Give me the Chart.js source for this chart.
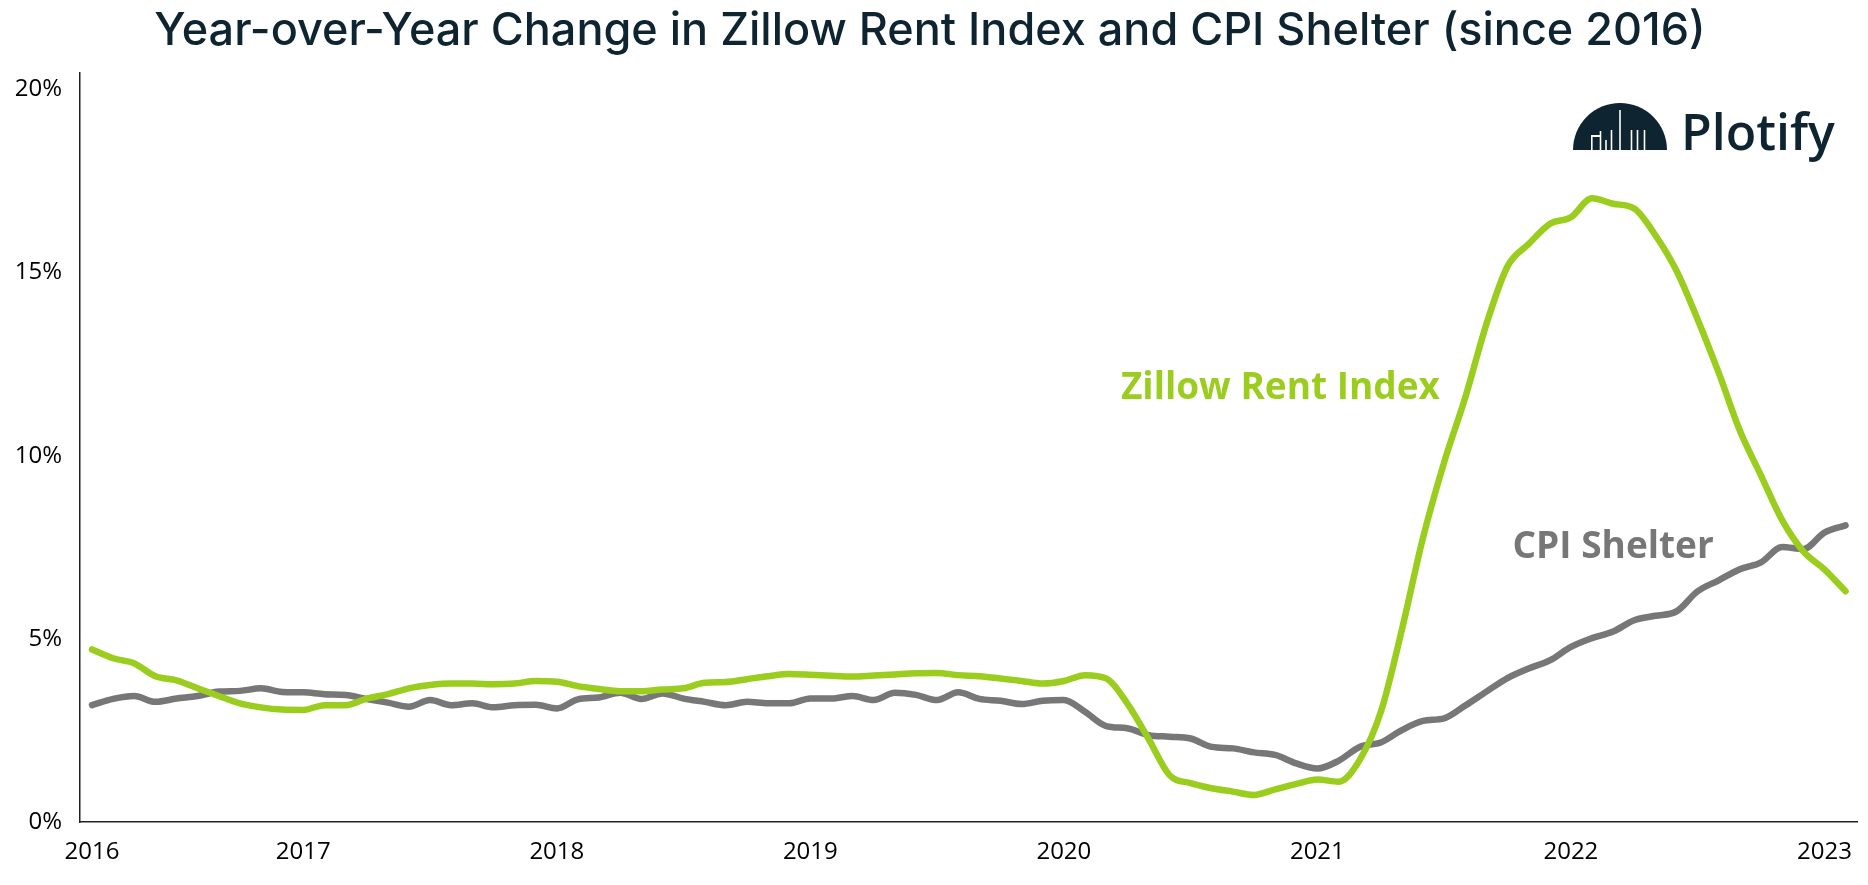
<!DOCTYPE html>
<html>
<head>
<meta charset="utf-8">
<title>Zillow Rent Index vs CPI Shelter</title>
<script src="https://cdn.jsdelivr.net/npm/chart.js@4.4.1/dist/chart.umd.min.js"></script>
<style>
  html, body { margin: 0; padding: 0; background: #fff; }
  canvas { display: block; }
</style>
</head>
<body>
<canvas id="chart" width="1868" height="885"></canvas>
<script>
// Aylik veri: Mart 2016 - Subat 2023 (yillik % degisim)
const startYear = 2016;
const startMonth = 3;

const zillowRent = [
  4.71, 4.47, 4.33, 3.98, 3.87, 3.65, 3.44, 3.24, 3.13, 3.07,
  3.06, 3.19, 3.19, 3.37, 3.49, 3.65, 3.74, 3.78, 3.78, 3.76,
  3.78, 3.85, 3.83, 3.71, 3.63, 3.57, 3.57, 3.62, 3.65, 3.80,
  3.82, 3.90, 3.98, 4.04, 4.02, 3.99, 3.97, 4.00, 4.03, 4.06,
  4.07, 4.01, 3.98, 3.92, 3.85, 3.78, 3.85, 4.01, 3.92, 3.24,
  2.28, 1.28, 1.06, 0.92, 0.83, 0.74, 0.89, 1.04, 1.16, 1.10,
  1.69, 3.00, 5.25, 7.76, 9.82, 11.59, 13.59, 15.17, 15.78, 16.33,
  16.51, 17.03, 16.88, 16.75, 16.02, 15.05, 13.72, 12.26, 10.68, 9.46,
  8.24, 7.39, 6.90, 6.30
];

const cpiShelter = [
  3.19, 3.36, 3.44, 3.28, 3.37, 3.44, 3.56, 3.58, 3.65, 3.55,
  3.54, 3.49, 3.47, 3.36, 3.26, 3.15, 3.33, 3.19, 3.24, 3.13,
  3.19, 3.20, 3.10, 3.35, 3.40, 3.53, 3.36, 3.51, 3.37, 3.28,
  3.19, 3.28, 3.24, 3.24, 3.37, 3.37, 3.44, 3.33, 3.53, 3.47,
  3.33, 3.54, 3.36, 3.31, 3.22, 3.31, 3.33, 3.01, 2.62, 2.56,
  2.37, 2.33, 2.28, 2.05, 2.01, 1.90, 1.83, 1.60, 1.46, 1.67,
  2.05, 2.17, 2.51, 2.76, 2.83, 3.18, 3.56, 3.93, 4.19, 4.41,
  4.78, 5.02, 5.20, 5.51, 5.63, 5.75, 6.30, 6.60, 6.90, 7.09,
  7.51, 7.45, 7.90, 8.10
];

// x ekseni yil etiketleri (ilk etiket serinin basinda)
const yearLabels = ['2016', '2017', '2018', '2019', '2020', '2021', '2022', '2023'];
const yearTickIndex = [0, 10, 22, 34, 46, 58, 70, 82];
const yTicks = [0, 5, 10, 15, 20];

const months = zillowRent.map((_, i) => {
  const m = startMonth - 1 + i;
  return (startYear + Math.floor(m / 12)) + '-' + String(m % 12 + 1).padStart(2, '0');
});

const GREEN = '#9bcd1e';
const GREY = '#777777';
const NAVY = '#0e2430';

// Seri etiketleri ve logo
const decorPlugin = {
  id: 'decor',
  afterDraw(chart) {
    const { ctx, scales } = chart;
    const x = scales.x, y = scales.y;
    ctx.save();
    ctx.font = 'bold 37px "Open Sans"';
    ctx.textBaseline = 'middle';
    ctx.textAlign = 'right';
    ctx.fillStyle = GREEN;
    ctx.fillText('Zillow Rent Index', x.getPixelForValue(63.8), y.getPixelForValue(11.85));
    ctx.textAlign = 'center';
    ctx.fillStyle = GREY;
    ctx.fillText('CPI Shelter', x.getPixelForValue(72.0), y.getPixelForValue(7.5));

    // Plotify logosu
    const cx = 1620, base = 150, r = 47;
    ctx.fillStyle = NAVY;
    ctx.beginPath();
    ctx.arc(cx, base, r, Math.PI, 0);
    ctx.closePath();
    ctx.fill();
    ctx.strokeStyle = '#fff';
    ctx.lineWidth = 1.6;
    [[1600.5, 131], [1606, 140], [1611.5, 130], [1620, 110], [1631.5, 130], [1637.5, 130], [1644.5, 130]]
      .forEach(([lx, top]) => {
        ctx.beginPath();
        ctx.moveTo(lx, base);
        ctx.lineTo(lx, top);
        ctx.stroke();
      });
    ctx.fillStyle = '#fff';
    ctx.fillRect(1591, 135, 9, 2);
    ctx.fillRect(1591, 135, 1.6, 15);
    ctx.fillStyle = NAVY;
    ctx.font = '600 50px "Open Sans"';
    ctx.textAlign = 'left';
    ctx.textBaseline = 'alphabetic';
    ctx.fillText('Plotify', 1681, 150);
    ctx.restore();
  }
};

new Chart(document.getElementById('chart'), {
  type: 'line',
  data: {
    labels: months,
    datasets: [
      {
        label: 'Zillow Rent Index',
        data: zillowRent.map((v, i) => ({ x: i, y: v })),
        borderColor: GREEN,
        borderWidth: 6.5,
        pointRadius: 0,
        cubicInterpolationMode: 'monotone',
        borderCapStyle: 'round',
        borderJoinStyle: 'round',
      },
      {
        label: 'CPI Shelter',
        data: cpiShelter.map((v, i) => ({ x: i, y: v })),
        borderColor: GREY,
        borderWidth: 6.5,
        pointRadius: 0,
        cubicInterpolationMode: 'monotone',
        borderCapStyle: 'round',
        borderJoinStyle: 'round',
      }
    ]
  },
  options: {
    responsive: false,
    animation: false,
    layout: { padding: { left: 0, right: 8, top: 0, bottom: 0 } },
    plugins: {
      legend: { display: false },
      tooltip: { enabled: false },
      title: {
        display: true,
        text: 'Year-over-Year Change in Zillow Rent Index and CPI Shelter (since 2016)',
        color: NAVY,
        font: { family: 'Inter', size: 45, weight: '500', lineHeight: 1.2 },
        padding: { top: 4, bottom: 15 },
      },
    },
    scales: {
      x: {
        type: 'linear',
        min: -0.57,
        max: 83.55,
        grid: { display: false, drawTicks: false },
        border: { display: true, color: '#222', width: 1.5 },
        afterBuildTicks(scale) {
          scale.ticks = yearTickIndex.map(v => ({ value: v }));
        },
        afterFit(scale) { scale.height = 63; },
        ticks: {
          autoSkip: false,
          maxRotation: 0,
          padding: 16,
          color: '#000',
          font: { family: 'Open Sans', size: 24 },
          callback: (v) => yearLabels[yearTickIndex.indexOf(v)] ?? '',
        },
      },
      y: {
        min: 0,
        max: 20.45,
        grid: { display: false, drawTicks: false },
        border: { display: true, color: '#222', width: 1.5 },
        afterBuildTicks(scale) {
          scale.ticks = yTicks.map(v => ({ value: v }));
        },
        afterFit(scale) { scale.width = 80; },
        ticks: {
          padding: 18,
          color: '#000',
          font: { family: 'Open Sans', size: 24 },
          callback: (v) => v + '%',
        },
      },
    },
  },
  plugins: [decorPlugin],
});
</script>
</body>
</html>
